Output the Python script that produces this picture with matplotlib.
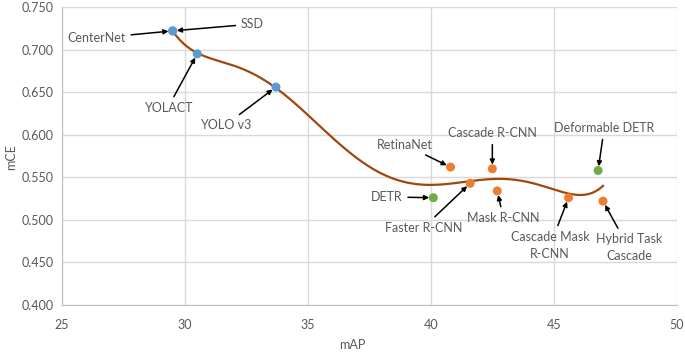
import numpy as np
import matplotlib
matplotlib.use('Agg')
import matplotlib.pyplot as plt

# detectors: mAP vs mCE
names = ['CenterNet', 'SSD', 'YOLACT', 'YOLO v3', 'RetinaNet', 'Cascade R-CNN',
         'Deformable DETR', 'DETR', 'Faster R-CNN', 'Mask R-CNN',
         'Cascade Mask\nR-CNN', 'Hybrid Task\nCascade']
mAP = [29.5, 29.5, 30.5, 33.7, 40.8, 42.5, 46.8, 40.1, 41.6, 42.7, 45.6, 47.0]
mCE = [0.722, 0.722, 0.695, 0.656, 0.562, 0.560, 0.558, 0.526, 0.543, 0.534, 0.526, 0.522]
group = ['one', 'one', 'one', 'one', 'two', 'two', 'tr', 'tr', 'two', 'two', 'two', 'two']

colors = {'one': '#5B9BD5', 'two': '#ED7D31', 'tr': '#70AD47'}

# label positions (data coords)
lab_x = [26.4, 32.75, 29.3, 31.65, 38.95, 42.5, 47.05, 38.2, 39.7, 42.95, 44.85, 48.05]
lab_y = [0.7135, 0.730, 0.6315, 0.6115, 0.588, 0.602, 0.608, 0.527, 0.491, 0.502, 0.470, 0.467]

plt.rcParams['font.family'] = ['Lato', 'DejaVu Sans']
txt = '#595959'

fig = plt.figure(figsize=(6.85, 3.52), dpi=100)
ax = fig.add_axes([0.0905, 0.1335, 0.8975, 0.8465])

# polynomial trend line, like the spreadsheet
coef = np.polyfit(mAP, mCE, 6)
xs = np.linspace(min(mAP), max(mAP), 300)
ax.plot(xs, np.polyval(coef, xs), color='#9E480E', lw=1.6, zorder=2)

for i in range(len(names)):
    ax.scatter(mAP[i], mCE[i], s=42, color=colors[group[i]], zorder=3, edgecolors='none')
    ax.annotate(names[i], xy=(mAP[i], mCE[i]), xytext=(lab_x[i], lab_y[i]),
                ha='center', va='center', fontsize=9, color=txt, linespacing=1.5,
                arrowprops=dict(arrowstyle='-|>', color='black', lw=1.1,
                                mutation_scale=7, shrinkA=2, shrinkB=3), zorder=4)

ax.set_xlim(25, 50)
ax.set_ylim(0.4, 0.75)
ax.set_xticks(np.arange(25, 51, 5))
ax.set_yticks(np.arange(0.4, 0.751, 0.05))
ax.set_yticklabels(['%.3f' % v for v in np.arange(0.4, 0.751, 0.05)])
ax.tick_params(length=0, labelsize=9, labelcolor=txt, pad=6)
ax.tick_params(axis='x', pad=10)
ax.grid(color='#D9D9D9', lw=1)
ax.set_axisbelow(True)
for s in ['top', 'right']:
    ax.spines[s].set_visible(False)
for s in ['left', 'bottom']:
    ax.spines[s].set_color('#BFBFBF')

fig.text(352 / 685, 1 - 345 / 352, 'mAP', fontsize=9, color=txt, ha='center', va='center')
fig.text(11 / 685, 1 - 157 / 352, 'mCE', fontsize=9, color=txt, ha='center', va='center',
         rotation=90)

fig.savefig('out.png', dpi=100)
